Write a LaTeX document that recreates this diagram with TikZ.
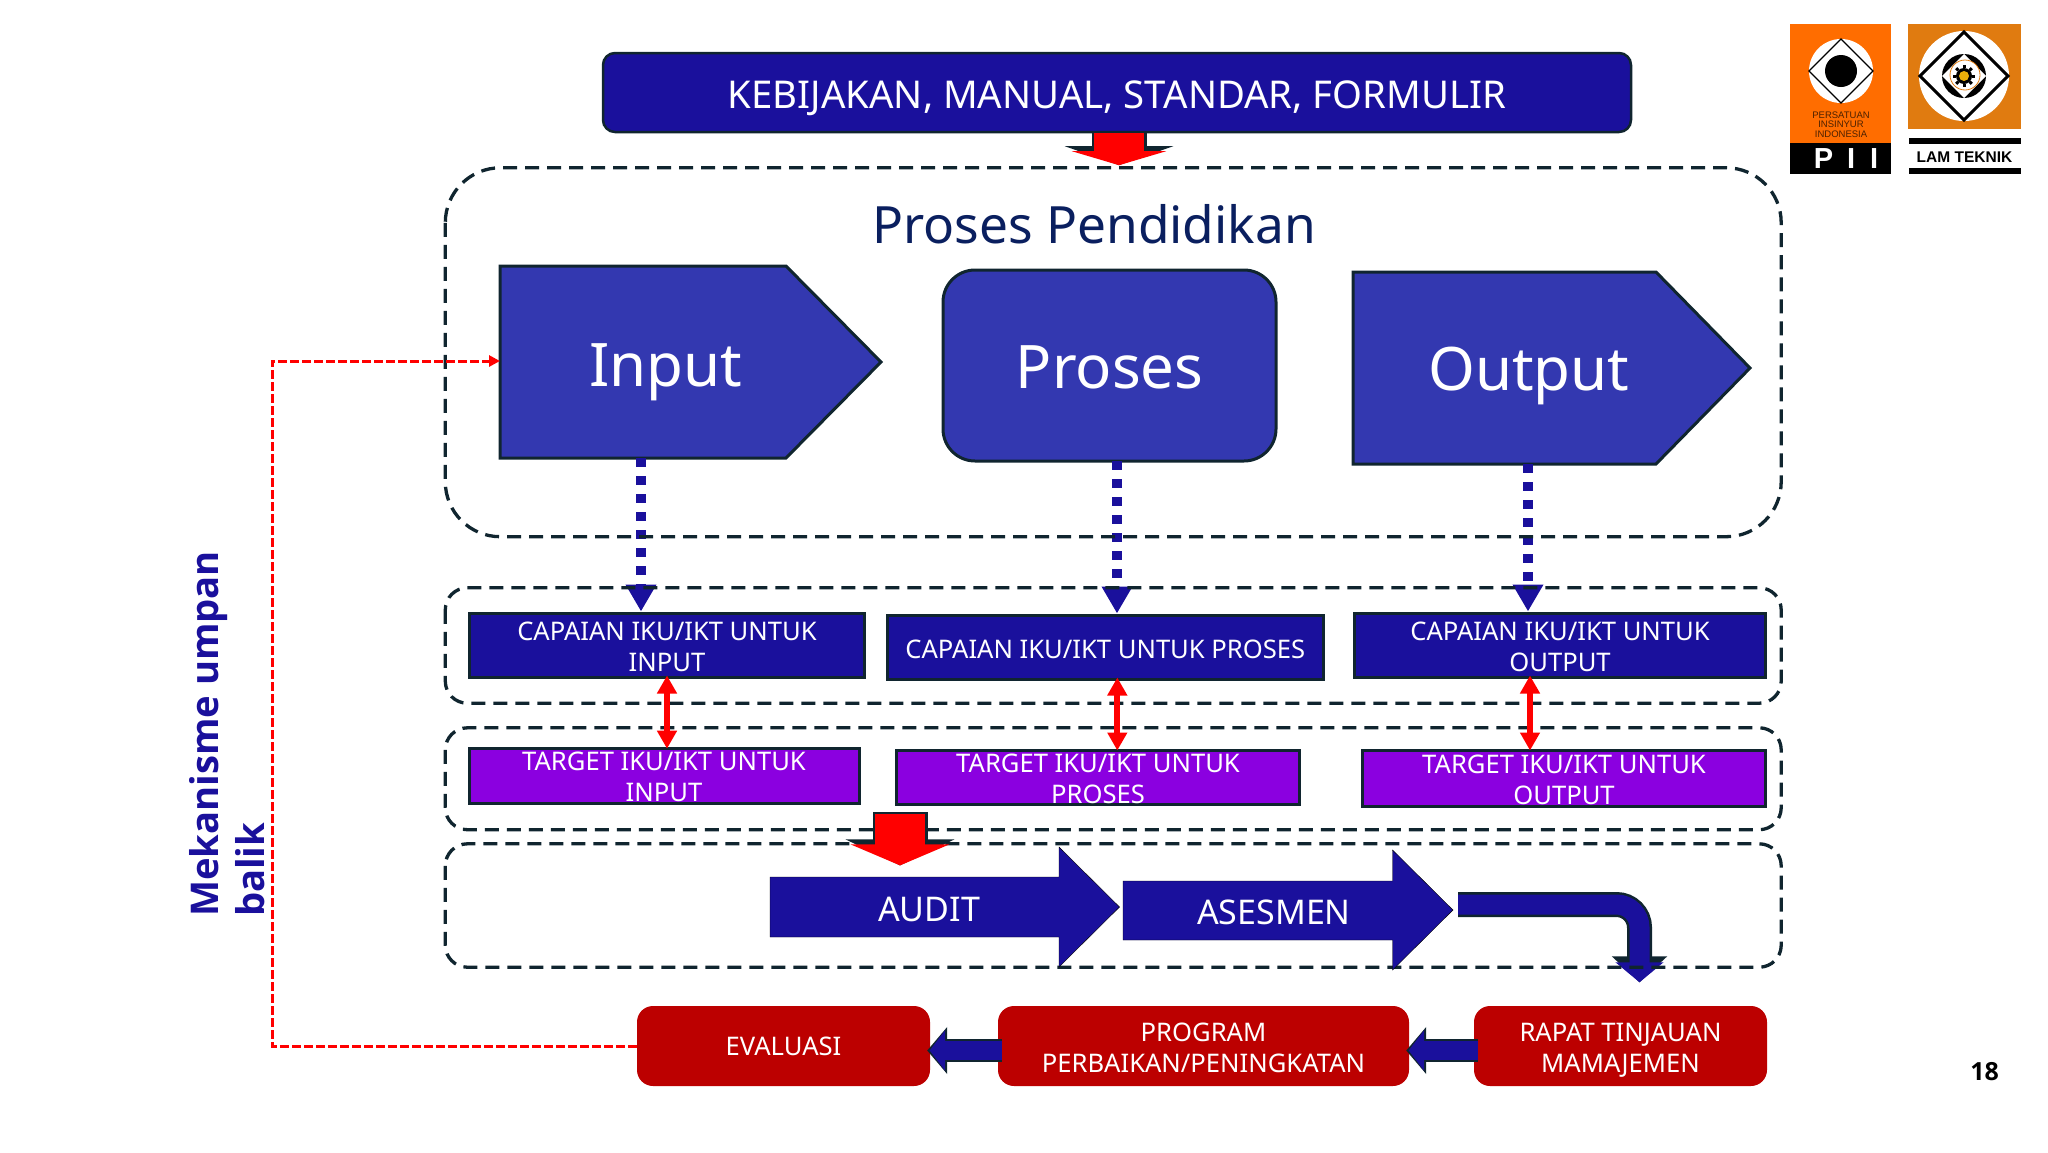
\documentclass[tikz,border=0pt]{standalone}
\usepackage{fontspec}
\setmainfont{Noto Sans}
\newfontfamily\headfont{Open Sans}
\newfontfamily\logofont{Liberation Sans}
\usetikzlibrary{arrows.meta}
\definecolor{navyfill}{HTML}{1A109C}
\definecolor{stagefill}{HTML}{3338B0}
\definecolor{purplefill}{HTML}{8B00E0}
\definecolor{redfill}{HTML}{BC0000}
\definecolor{darkline}{HTML}{10252F}
\definecolor{titleblue}{HTML}{0A1F5F}
\definecolor{piiorange}{HTML}{FF6D00}
\definecolor{lamorange}{HTML}{E07B10}
\tikzset{
    boxtext/.style={text=white, align=center, text height=52, text depth=0, inner sep=0, font=\fontsize{25.6}{31}\selectfont},
    topbox/.style={draw=darkline, line width=2.5, fill=navyfill, rounded corners=12, text=white, text height=31, text depth=0, font=\fontsize{38.3}{44}\selectfont},
    stagebox/.style={draw=darkline, line width=3, fill=stagefill},
    stagetext/.style={text=white, font=\fontsize{60}{70}\selectfont},
    capbox/.style={boxtext, draw=darkline, line width=3, fill=navyfill},
    tgbox/.style={boxtext, draw=darkline, line width=3, fill=purplefill},
    redbox/.style={boxtext, fill=redfill, rounded corners=16},
    frame/.style={draw=darkline, line width=3.3, dash pattern=on 14 off 8},
    dotarrow/.style={draw=navyfill, line width=10, dash pattern=on 9 off 9, -{Triangle[length=27,width=29]}},
    twoway/.style={draw=red, line width=6, {Triangle[length=18,width=19]}-{Triangle[length=18,width=19]}, shorten <=-3, shorten >=-2},
    redblock/.style n args={3}{draw=red, line width=50, shorten >=2.6, -{Triangle[length=#2,width=#3]},
        preaction={draw=darkline, line width=55, shorten <=-2, -{Triangle[length=#1,width=108]}}},
    blueblock/.style={draw=navyfill, line width=19, shorten >=-0.5, shorten <=-4, -{Triangle[length=15.5,width=40]},
        preaction={draw=darkline, line width=23, shorten >=-3, shorten <=-4, -{Triangle[length=20,width=46]}}},
    bentblock/.style={draw=navyfill, line width=20, shorten >=3.5, rounded corners=23, -{Triangle[length=20,width=47]},
        preaction={draw=darkline, line width=25, -{Triangle[length=26,width=54]}}},
    arrowfill/.style={fill=navyfill},
    arrowtext/.style={text=white, font=\fontsize{34}{40}\selectfont},
    feedback/.style={draw=red, line width=3, dash pattern=on 9 off 3, -{Triangle[length=11,width=11]}},
}
\begin{document}
\begin{tikzpicture}[x=1pt, y=-1pt]
\useasboundingbox (0,0) rectangle (2048,1152);

\node[topbox, minimum width=1028, minimum height=79] (topbar) at (1117,92.5) {KEBIJAKAN, MANUAL, STANDAR, FORMULIR};

\node[minimum width=1335.5, minimum height=368.5, inner sep=0] (procbox) at (1113.25,352.25) {};
\node[minimum width=1335.5, minimum height=115, inner sep=0] (capframe) at (1113.25,645.5) {};
\node[minimum width=1335.5, minimum height=101.5, inner sep=0] (tgframe) at (1113.25,778.75) {};
\node[minimum width=1335.5, minimum height=123, inner sep=0] (auditframe) at (1113.25,905.5) {};

\node[redbox, minimum width=293, minimum height=80, text height=18] (evaluasi) at (783.5,1046) {EVALUASI};
\node[redbox, minimum width=411, minimum height=80] (program) at (1203.5,1046) {PROGRAM\\PERBAIKAN/PENINGKATAN};
\node[redbox, minimum width=293, minimum height=80] (rapat) at (1620.5,1046) {RAPAT TINJAUAN\\MAMAJEMEN};

\draw[redblock={19}{14}{94}] ([xshift=2]topbar.south) -- ([xshift=2]topbar.south |- procbox.north);

\draw[stagebox] (500,266) -- (786,266) -- (881,362) -- (786,458) -- (500,458) -- cycle;
\node[stagetext] (input) at (666,372) {Input};
\node[stagetext, draw=darkline, line width=3, fill=stagefill, rounded corners=32, minimum width=333, minimum height=191, inner sep=0, text height=45, text depth=0] (proses) at (1109.5,365.5) {Proses};
\draw[stagebox] (1353,272) -- (1656,272) -- (1750,368) -- (1656,464) -- (1353,464) -- cycle;
\node[stagetext] (output) at (1529,376) {Output};
\node[text=titleblue, font=\fontsize{51.4}{60}\selectfont] (title) at (1094,224) {Proses Pendidikan};

\node[capbox, minimum width=395, minimum height=64] (capinput) at (667,645) {CAPAIAN IKU/IKT UNTUK\\INPUT};
\node[capbox, minimum width=436, minimum height=64, text height=22] (capproses) at (1105.3,647) {CAPAIAN IKU/IKT UNTUK PROSES};
\node[capbox, minimum width=411, minimum height=64] (capoutput) at (1560,645) {CAPAIAN IKU/IKT UNTUK\\OUTPUT};
\node[tgbox, minimum width=390, minimum height=55] (tginput) at (664,775.7) {TARGET IKU/IKT UNTUK\\INPUT};
\node[tgbox, minimum width=403, minimum height=54] (tgproses) at (1098,777) {TARGET IKU/IKT UNTUK\\PROSES};
\node[tgbox, minimum width=403, minimum height=56, text height=53] (tgoutput) at (1564,778) {TARGET IKU/IKT UNTUK\\OUTPUT};

\coordinate (inputout) at (641,458);
\coordinate (prosesout) at (1117,461);
\coordinate (outputout) at (1528,464);
\draw[dotarrow] (inputout) -- (inputout |- capinput.north);
\draw[dotarrow] (prosesout) -- (prosesout |- capproses.north);
\draw[dotarrow] (outputout) -- (outputout |- capoutput.north);

\coordinate (benttail) at (1458,904.5);
\draw[bentblock] (benttail) -| ([xshift=19,yshift=20]rapat.north);

\draw[frame, rounded corners=55] (procbox.north west) rectangle (procbox.south east);
\draw[frame, rounded corners=22] (capframe.north west) rectangle (capframe.south east);
\draw[frame, rounded corners=22] (tgframe.north west) rectangle (tgframe.south east);
\draw[frame, rounded corners=22] (auditframe.north west) rectangle (auditframe.south east);

\draw[twoway] (capinput.south) -- (capinput.south |- tginput.north);
\draw[twoway] ([xshift=12]capproses.south) -- ([xshift=12]capproses.south |- tgproses.north);
\draw[twoway] ([xshift=-30]capoutput.south) -- ([xshift=-30]capoutput.south |- tgoutput.north);

\coordinate (redstart) at (900,814);
\coordinate (redend) at (900,868);
\draw[redblock={26}{21}{98}] (redstart) -- (redend);

\draw[arrowfill] (770,877) -- (1059,877) -- (1059,847) -- (1119.5,907) -- (1059,967) -- (1059,937) -- (770,937) -- cycle;
\node[arrowtext] (audit) at (929,909) {AUDIT};
\draw[arrowfill] (1123,881) -- (1392.5,881) -- (1392.5,850) -- (1453,910) -- (1392.5,970) -- (1392.5,940) -- (1123,940) -- cycle;
\node[arrowtext] (asesmen) at (1274,912) {ASESMEN};

\draw[blueblock] ([yshift=-4.5]rapat.west) -- ([yshift=-4.5]program.east);
\draw[blueblock] ([yshift=-4.5]program.west) -- ([yshift=-4.5]evaluasi.east);

\coordinate (inputin) at (500,361);
\draw[feedback] (evaluasi.west) -- (272,1046) -- (272,361) -- (inputin);

\node[text=navyfill, rotate=90, anchor=west, align=left, font=\headfont\bfseries\fontsize{38.2}{46}\selectfont] (umpan) at (227,920.5) {Mekanisme umpan\\balik};
\node[font=\headfont\bfseries\fontsize{25}{30}\selectfont] (pagenum) at (1984.5,1071.5) {18};

\fill[piiorange] (1790,24) rectangle (1891,143);
\fill[black] (1790,143) rectangle (1891,174);
\fill[white] (1841,71) circle (32);
\draw[line width=1.2] (1841,39) -- (1873,71) -- (1841,103) -- (1809,71) -- cycle;
\fill[black] (1841,71) circle (16);
\node[text=black!70!piiorange, align=center, font=\logofont\fontsize{9.5}{9.6}\selectfont] (piiname) at (1841,124.5) {PERSATUAN\\INSINYUR\\INDONESIA};
\node[text=white, font=\logofont\bfseries\fontsize{29}{30}\selectfont] (piitext) at (1846,159) {P\hspace{14pt}I\hspace{15pt}I};

\fill[lamorange] (1908,24) rectangle (2021,129);
\fill[white] (1964,76) circle (45);
\draw[line width=3, fill=white] (1964,32) -- (2008,76) -- (1964,120) -- (1920,76) -- cycle;
\fill[black] (1964,76) circle (22);
\fill[white] (1964,54) -- (1986,76) -- (1964,98) -- (1942,76) -- cycle;
\draw[lamorange, line width=0.8, fill=white] (1965,75) circle (15);
\foreach \a in {0,45,...,315} {
    \draw[line width=3, rotate around={\a:(1964,76)}] (1964,68) -- (1964,65);
}
\fill[black] (1964,76) circle (8);
\fill[lamorange!60!yellow] (1964,76) circle (5);
\fill[black] (1909,138) rectangle (2021,144);
\fill[black] (1909,168) rectangle (2021,174);
\node[font=\logofont\bfseries\fontsize{15.5}{18}\selectfont] (lamtext) at (1964.5,157) {LAM TEKNIK};
\end{tikzpicture}
\end{document}
